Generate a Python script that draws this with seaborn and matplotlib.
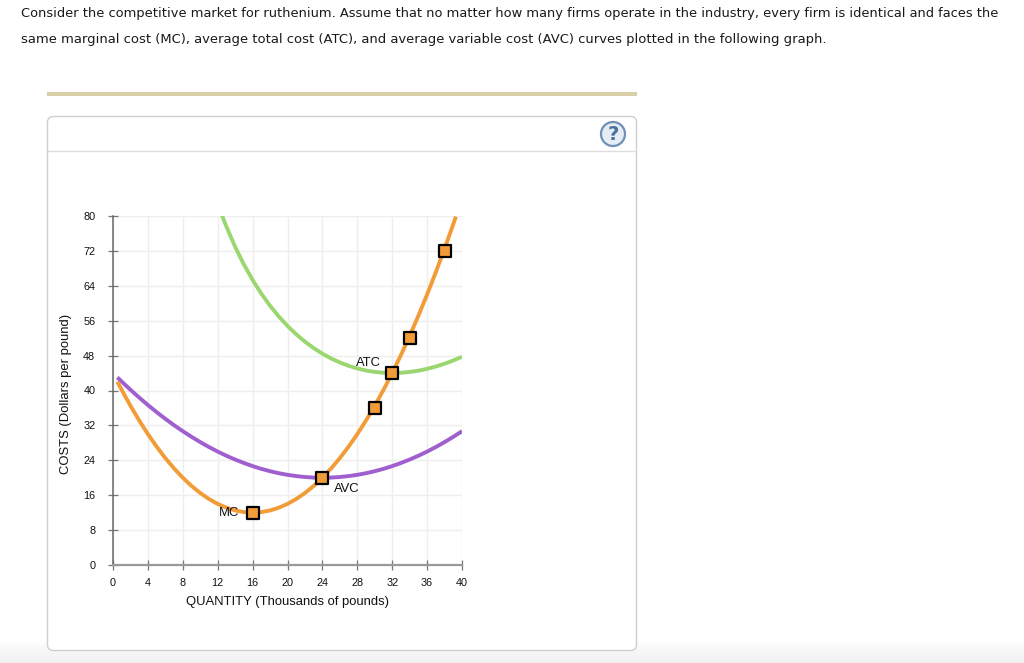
"""
Ruthenium market cost curves
"""

import pandas as pd
import matplotlib.pyplot as plt
from matplotlib.patches import Circle, FancyBboxPatch, Rectangle
import seaborn as sns


# Values
x_ticks = [0, 4, 8, 12, 16, 20, 24, 28, 32, 36, 40]
y_ticks = [0, 8, 16, 24, 32, 40, 48, 56, 64, 72, 80]

mc_q = [0.5, 1, 2, 3, 4, 5, 6, 7, 8, 9, 10, 11, 12, 13, 14, 15, 16, 17, 18, 19, 20,
        21, 22, 23, 24, 25, 26, 27, 28, 29, 30, 31, 32, 33, 34, 35, 36, 37, 38, 39, 39.3]
mc_cost = [42.03, 40.13, 36.5, 33.13, 30.0, 27.13, 24.5, 22.13, 20.0, 18.13, 16.5, 15.13, 14.0, 13.13,
           12.5, 12.13, 12.0, 12.13, 12.5, 13.13, 14.0, 15.13, 16.5, 18.13, 20.0, 22.13, 24.5, 27.13,
           30.0, 33.13, 36.5, 40.13, 44.0, 48.13, 52.5, 57.13, 62.0, 67.13, 72.5, 78.13, 79.86]

avc_q = [0.5, 1, 2, 3, 4, 5, 6, 7, 8, 9, 10, 11, 12, 13, 14, 15, 16, 17, 18, 19, 20,
         21, 22, 23, 24, 25, 26, 27, 28, 29, 30, 31, 32, 33, 34, 35, 36, 37, 38, 39, 40]
avc_cost = [43.01, 42.04, 40.17, 38.38, 36.67, 35.04, 33.5, 32.04, 30.67, 29.38, 28.17, 27.04, 26.0, 25.04,
            24.17, 23.38, 22.67, 22.04, 21.5, 21.04, 20.67, 20.38, 20.17, 20.04, 20.0, 20.04, 20.17, 20.38,
            20.67, 21.04, 21.5, 22.04, 22.67, 23.38, 24.17, 25.04, 26.0, 27.04, 28.17, 29.38, 30.67]

atc_q = [12.5, 13, 14, 15, 16, 17, 18, 19, 20, 21, 22, 23, 24, 25, 26,
         27, 28, 29, 30, 31, 32, 33, 34, 35, 36, 37, 38, 39, 40]
atc_cost = [80.1, 77.55, 72.93, 68.89, 65.34, 62.2, 59.43, 56.97, 54.8, 52.89, 51.2, 49.72, 48.44, 47.35, 46.43,
            45.66, 45.05, 44.58, 44.26, 44.06, 44.0, 44.07, 44.25, 44.54, 44.96, 45.49, 46.13, 46.88, 47.74]

marker_q = [16, 24, 30, 32, 34, 38]
marker_cost = [12, 20, 36, 44, 52, 72]

curve_colors = {"ATC": "#9BD770", "AVC": "#A05FCE", "MC": "#F29C38"}

question = [
    "Consider the competitive market for ruthenium. Assume that no matter how many firms operate in the industry, every firm is identical and faces the",
    "same marginal cost (MC), average total cost (ATC), and average variable cost (AVC) curves plotted in the following graph.",
]


# Put the curves in one table
curves = pd.concat([
    pd.DataFrame({"q": atc_q, "cost": atc_cost, "curve": "ATC"}),
    pd.DataFrame({"q": avc_q, "cost": avc_cost, "curve": "AVC"}),
    pd.DataFrame({"q": mc_q, "cost": mc_cost, "curve": "MC"}),
])
markers = pd.DataFrame({"q": marker_q, "cost": marker_cost})

sns.set_style("white")
plt.rcParams["font.family"] = ["Liberation Sans", "DejaVu Sans"]

W, H = 1024, 663
fig = plt.figure(figsize=(W / 100, H / 100), dpi=100)


# Page furniture, in pixel coordinates
page = fig.add_axes([0, 0, 1, 1], zorder=0)
page.set_xlim(0, W)
page.set_ylim(H, 0)
page.axis("off")

# faint grey fade along the bottom of the page
for row in range(638, H):
    shade = 1 - 0.06 * (row - 638) / (H - 638)
    page.add_patch(Rectangle((0, row), W, 1, fc=(shade, shade, shade), ec="none"))

page.add_patch(Rectangle((47, 91.5), 590, 4, fc="#DAD0A8", ec="none"))
page.add_patch(FancyBboxPatch((47.5, 116.5), 589, 534, boxstyle="round,pad=0,rounding_size=6",
                              fc="white", ec="#CFCFCF", lw=1))
page.plot([48, 636], [150.5, 150.5], color="#DDDDDD", lw=1)
page.add_patch(Circle((613, 134), 12, fc="#E6ECF3", ec="#6E90B8", lw=1.6))
page.text(613, 134.5, "?", ha="center", va="center", fontsize=14, fontweight="bold",
          color="#4A6FA0", family="DejaVu Sans")

page.text(21, 13, question[0], va="center", fontsize=9.39, color="#1A1A1A", family="DejaVu Sans")
page.text(21, 39, question[1], va="center", fontsize=9.45, color="#1A1A1A", family="DejaVu Sans")


# Chart
ax = fig.add_axes([113 / W, 1 - 565 / H, 349 / W, 349 / H], zorder=1)
ax.patch.set_alpha(0)

sns.lineplot(data=curves, x="q", y="cost", hue="curve", palette=curve_colors, estimator=None,
             sort=False, linewidth=2.8, legend=False, ax=ax, zorder=3, solid_capstyle="butt")
sns.scatterplot(data=markers, x="q", y="cost", marker="s", s=74, color="#F29C38",
                edgecolor="black", linewidth=1.6, clip_on=False, ax=ax, zorder=4)

ax.set_xlim(0, 40)
ax.set_ylim(0, 80)
ax.set_xticks(x_ticks)
ax.set_yticks(y_ticks)
ax.grid(True, color="#EEEEEE", lw=1)
ax.set_axisbelow(True)

ax.spines[["top", "right"]].set_visible(False)
ax.spines["left"].set_color("#666666")
ax.spines["bottom"].set_color("#999999")
ax.spines["left"].set_linewidth(1.1)
ax.spines["bottom"].set_linewidth(1.6)
ax.tick_params(axis="x", direction="inout", length=6.5, width=0.9, color="#777777", pad=6,
               labelsize=7.8, labelcolor="#111111", bottom=True)
ax.tick_params(axis="y", direction="inout", length=6.5, width=0.9, color="#777777", pad=9.5,
               labelsize=7.8, labelcolor="#111111", left=True)

ax.set_xlabel("QUANTITY (Thousands of pounds)", fontsize=9.4, color="#111111", labelpad=6)
ax.set_ylabel("COSTS (Dollars per pound)", fontsize=9.4, color="#111111", labelpad=7.7, y=0.491)

ax.text(29.3, 46.3, "ATC", ha="center", va="center", fontsize=9.4, color="#111111", zorder=5)
ax.text(26.8, 17.4, "AVC", ha="center", va="center", fontsize=9.4, color="#111111", zorder=5)
ax.text(13.3, 12, "MC", ha="center", va="center", fontsize=9.4, color="#111111", zorder=5)

fig.savefig("out.png", dpi=100)
